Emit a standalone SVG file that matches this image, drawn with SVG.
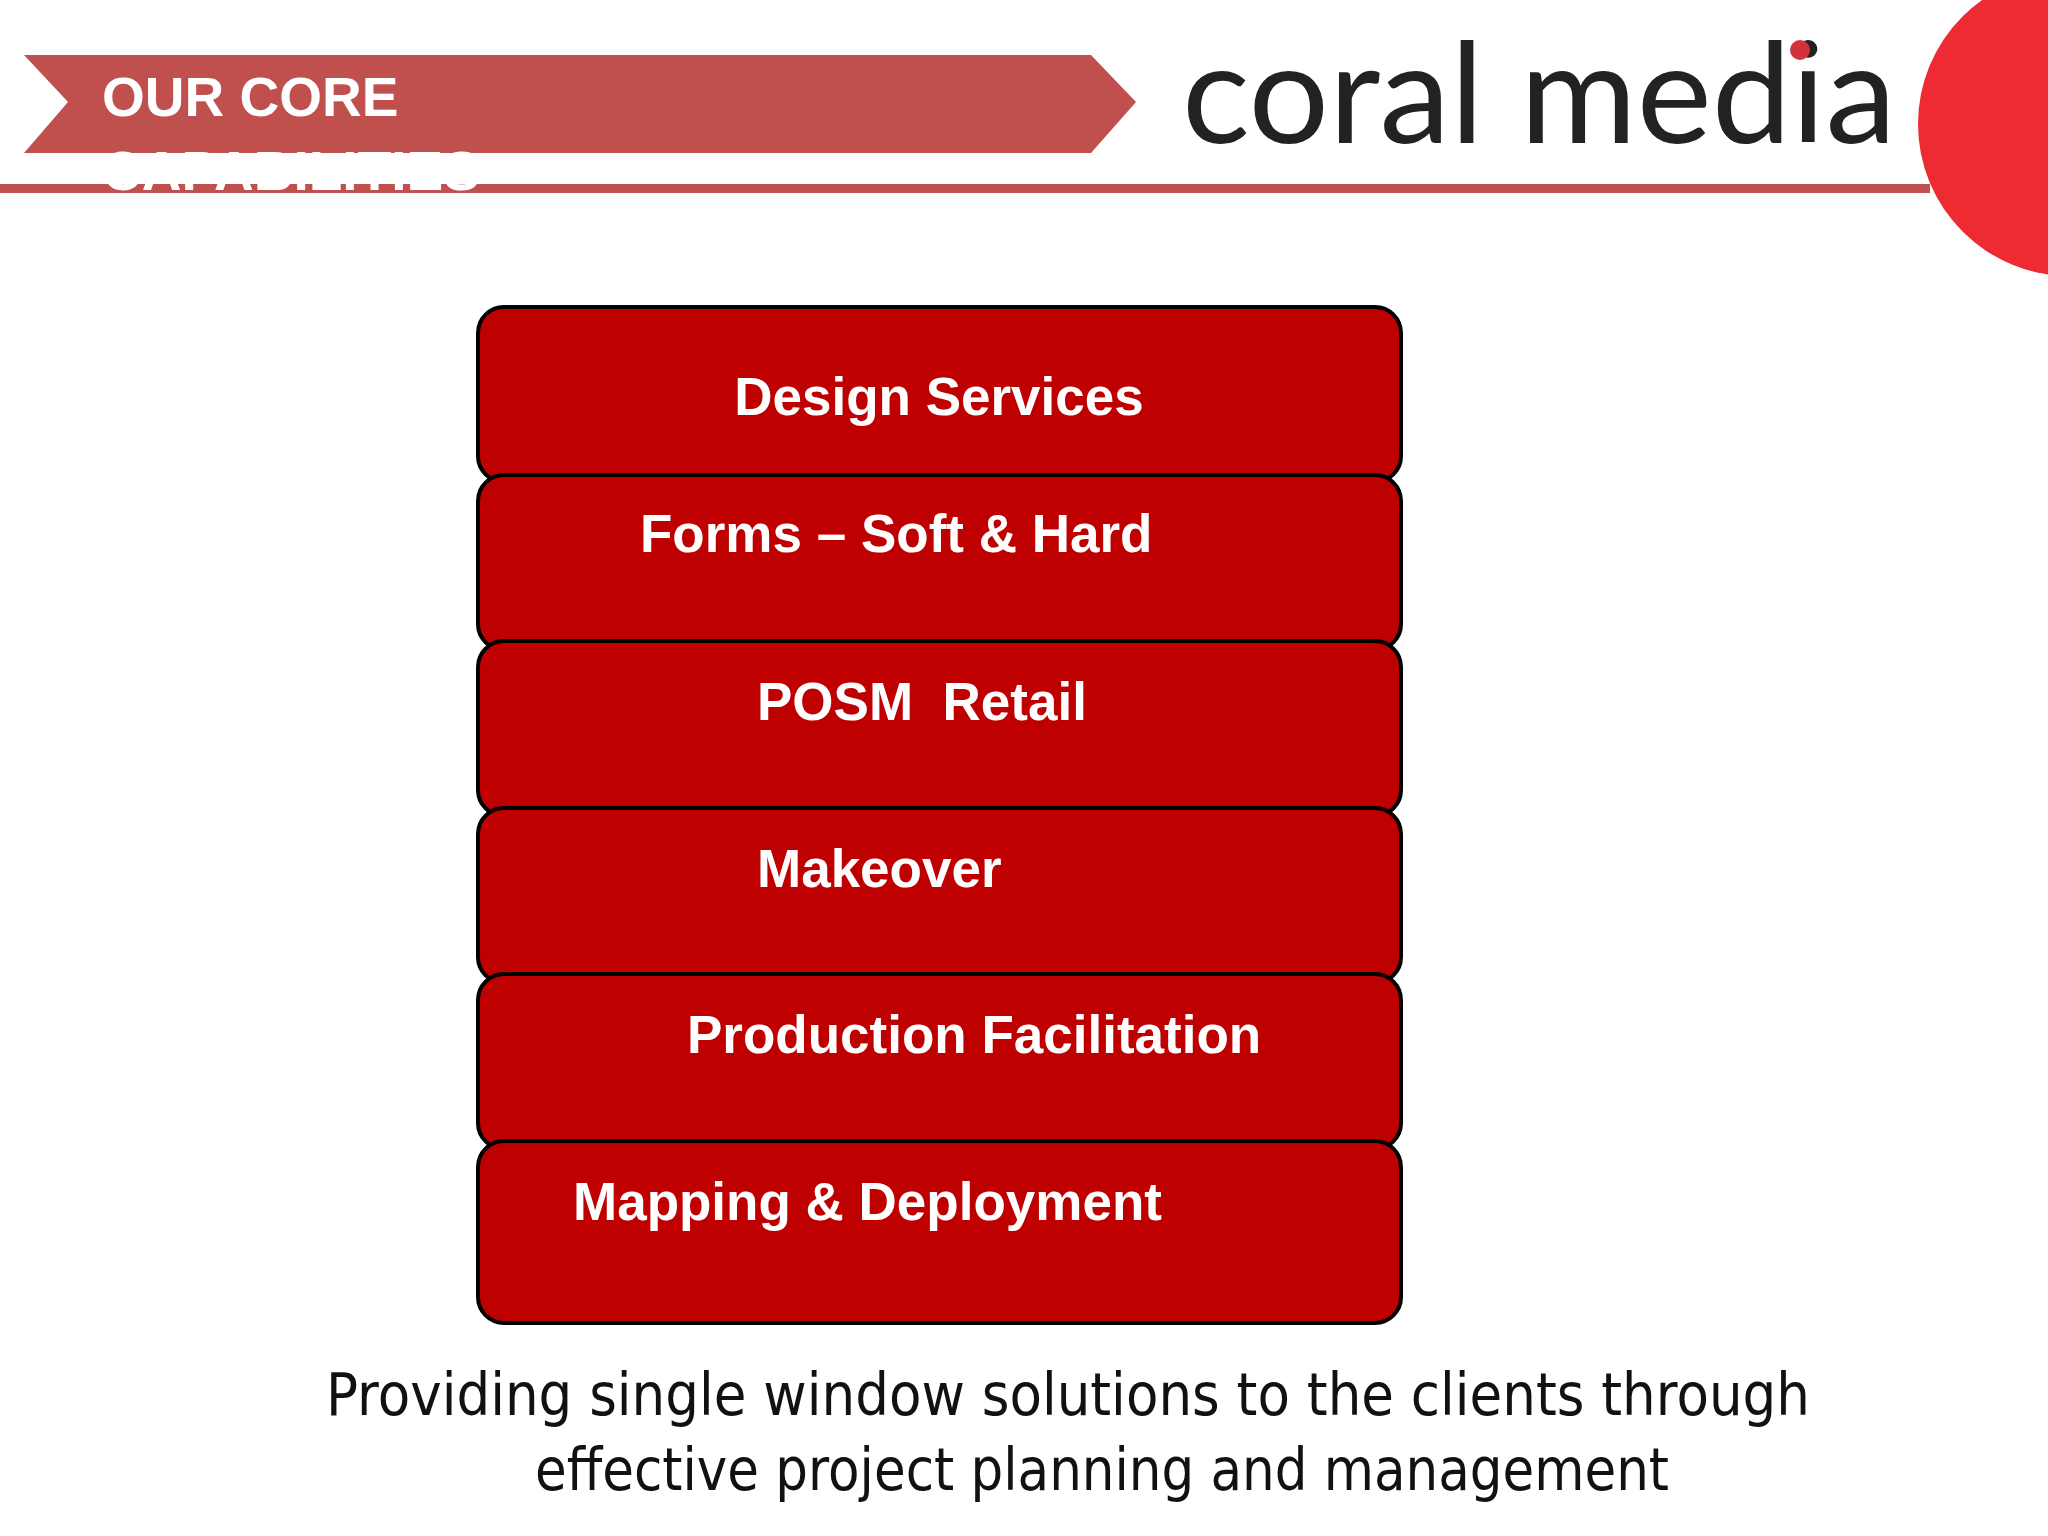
<svg xmlns="http://www.w3.org/2000/svg" width="2048" height="1536" viewBox="0 0 2048 1536">
<style>
.box{fill:#bf0000;stroke:#000;stroke-width:4}
.bt{font-family:"Liberation Sans",Arial,sans-serif;font-weight:bold;font-size:53px;fill:#fff}
.ft{font-family:"DejaVu Sans",sans-serif;font-size:58px;fill:#111}
</style>
<rect width="2048" height="1536" fill="#fff"/>
<circle cx="2070" cy="124" r="152" fill="#ee2b33"/>
<g id="header">
<polygon points="24,55 1091,55 1136,102 1091,153 24,153 68,102" fill="#c0504d"/>
<rect x="0" y="184" width="1930" height="9" fill="#c0504d"/>
<text x="102" y="116" font-family="Liberation Sans,Arial,sans-serif" font-weight="bold" font-size="55" fill="#fff">OUR CORE</text>
<text x="102" y="190" font-family="Liberation Sans,Arial,sans-serif" font-weight="bold" font-size="55" fill="#fff">CAPABILITIES</text>
<text x="1182" y="143" font-family="Lato,sans-serif" font-weight="400" font-size="140" fill="#222" textLength="714" lengthAdjust="spacingAndGlyphs">coral media</text>
<circle cx="1800" cy="50" r="10" fill="#d2323c"/>
</g>
<g id="n1"><rect class="box" x="478" y="307" width="923" height="175" rx="26"/><text class="bt" x="939" y="415" text-anchor="middle">Design Services</text></g>
<g id="n2"><rect class="box" x="478" y="475" width="923" height="175" rx="26"/><text class="bt" x="640" y="552">Forms – Soft &amp; Hard</text></g>
<g id="n3"><rect class="box" x="478" y="641" width="923" height="175" rx="26"/><text class="bt" x="757" y="720" xml:space="preserve">POSM  Retail</text></g>
<g id="n4"><rect class="box" x="478" y="808" width="923" height="175" rx="26"/><text class="bt" x="757" y="887">Makeover</text></g>
<g id="n5"><rect class="box" x="478" y="974" width="923" height="175" rx="26"/><text class="bt" x="687" y="1053">Production Facilitation</text></g>
<g id="n6"><rect class="box" x="478" y="1141" width="923" height="182" rx="26"/><text class="bt" x="573" y="1220">Mapping &amp; Deployment</text></g>
<g id="connectors"/>
<text class="ft" x="326" y="1415" textLength="1484" lengthAdjust="spacingAndGlyphs">Providing single window solutions to the clients through</text>
<text class="ft" x="535" y="1490" textLength="1134" lengthAdjust="spacingAndGlyphs">effective project planning and management</text>
</svg>
